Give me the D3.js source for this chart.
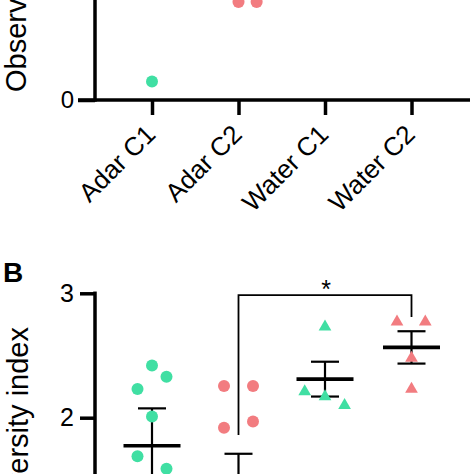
<!DOCTYPE html>
<html>
<head>
<meta charset="utf-8">
<script src="https://cdn.jsdelivr.net/npm/d3@7"></script>
<style>
  body { margin: 0; background: #fff; }
  text { font-family: "Liberation Sans", Arial, sans-serif; fill: #000; }
</style>
</head>
<body>
<div id="chart"></div>
<script>
const categories = ["Adar C1", "Adar C2", "Water C1", "Water C2"];
const groupColor = ["#40dfa3", "#f27c80", "#40dfa3", "#f27c80"];
const groupShape = ["circle", "circle", "triangle", "triangle"];

// panel A (observed richness) - only the lowest points fall inside the crop
const observedGroup  = ["Adar C1", "Adar C2", "Adar C2"];
const observedValue  = [15, 79, 79];
const observedJitter = [0, 0, 1.25];

// panel B (diversity index)
const diversityGroup = [
  "Adar C1", "Adar C1", "Adar C1", "Adar C1", "Adar C1", "Adar C1",
  "Adar C2", "Adar C2", "Adar C2", "Adar C2",
  "Water C1", "Water C1", "Water C1", "Water C1",
  "Water C2", "Water C2", "Water C2", "Water C2"
];
const diversityValue = [
  2.42, 2.33, 2.23, 2.01, 1.69, 1.59,
  2.255, 2.255, 1.92, 1.97,
  2.73, 2.21, 2.17, 2.10,
  2.77, 2.77, 2.48, 2.23
];
const diversityJitter = [
  0, 1, -1, 0, -1, 1,
  -1, 1, -1, 1,
  0, -1.4, 0, 1.35,
  -1, 0.95, 0, 0
];
const diversityMean = [1.775, 1.45, 2.31, 2.565];
const diversitySem  = [0.30, 0.26, 0.14, 0.13];

const comparisons = [
  { from: "Adar C2", to: "Water C2", top: 2.985, endFrom: 1.86, endTo: 2.81, label: "*" }
];

const W = 474, H = 474;
const axisX = 95, jitterUnit = 14.5;

const svg = d3.select("#chart").append("svg")
    .attr("width", W)
    .attr("height", H);

let x = d3.scalePoint()
    .domain(categories)
    .range([152, 411.5]);

let colorOf = d3.scaleOrdinal().domain(categories).range(groupColor);
let shapeOf = d3.scaleOrdinal().domain(categories).range(groupShape);
let tri = d3.symbol(d3.symbolTriangle, 70);

function drawPoints(g, group, value, jitter, y) {
  let pts = group.map((c, i) => ({ c: c, v: value[i], j: jitter[i] }));
  g.selectAll("circle.pt")
    .data(pts.filter((d) => shapeOf(d.c) === "circle"))
    .enter().append("circle")
    .attr("class", "pt")
    .attr("cx", (d) => x(d.c) + d.j * jitterUnit)
    .attr("cy", (d) => y(d.v))
    .attr("r", 6)
    .attr("fill", (d) => colorOf(d.c));
  g.selectAll("path.pt")
    .data(pts.filter((d) => shapeOf(d.c) === "triangle"))
    .enter().append("path")
    .attr("class", "pt")
    .attr("d", tri)
    .attr("transform", (d) => `translate(${ x(d.c) + d.j * jitterUnit }, ${ y(d.v) })`)
    .attr("fill", (d) => colorOf(d.c));
}

function styleAxis(g, size) {
  g.select(".domain").remove();
  g.selectAll(".tick line").attr("stroke", "#000").attr("stroke-width", 3.5);
  g.selectAll(".tick text").attr("font-size", size).attr("fill", "#000")
    .attr("font-family", "'Liberation Sans', Arial, sans-serif");
}

// ---------- panel A ----------
let yA = d3.scaleLinear().domain([0, 100]).range([100, -24]);
let gA = svg.append("g");

gA.append("g")
    .attr("transform", `translate(${ axisX }, 0)`)
    .call(d3.axisLeft(yA).tickValues([0]).tickSize(17).tickPadding(4))
    .call((g) => styleAxis(g, 24));

gA.append("g")
    .attr("transform", `translate(0, ${ yA(0) })`)
    .call(d3.axisBottom(x).tickSize(15).tickFormat(""))
    .call((g) => styleAxis(g, 24));

gA.append("line")
    .attr("x1", axisX - 17).attr("x2", 470)
    .attr("y1", yA(0)).attr("y2", yA(0))
    .attr("stroke", "#000").attr("stroke-width", 3.5);
gA.append("line")
    .attr("x1", axisX).attr("x2", axisX)
    .attr("y1", yA(0) + 1.75).attr("y2", -5)
    .attr("stroke", "#000").attr("stroke-width", 3.5);

gA.selectAll("text.cat")
    .data(categories)
    .enter().append("text")
    .attr("class", "cat")
    .attr("font-size", 26)
    .attr("text-anchor", "end")
    .attr("transform", (d) => `translate(${ x(d) + 5 }, 136) rotate(-45)`)
    .text((d) => d);

gA.append("text")
    .attr("font-size", 29)
    .attr("transform", "translate(26, 92) rotate(-90)")
    .text("Observed species");

drawPoints(gA, observedGroup, observedValue, observedJitter, yA);

// ---------- panel B ----------
let yB = d3.scaleLinear().domain([2, 3]).range([417.7, 293.3]);
let gB = svg.append("g");

gB.append("text")
    .attr("x", 3).attr("y", 282)
    .attr("font-size", 28)
    .attr("font-weight", "bold")
    .text("B");

gB.append("g")
    .attr("transform", `translate(${ axisX }, 0)`)
    .call(d3.axisLeft(yB).tickValues([2, 3]).tickSize(15).tickPadding(6).tickFormat(d3.format("d")))
    .call((g) => styleAxis(g, 25));
gB.append("line")
    .attr("x1", axisX).attr("x2", axisX)
    .attr("y1", yB(3) - 1.75).attr("y2", H + 10)
    .attr("stroke", "#000").attr("stroke-width", 3.5);

gB.append("text")
    .attr("font-size", 29)
    .attr("text-anchor", "end")
    .attr("transform", "translate(28, 327) rotate(-90)")
    .text("Shannon diversity index");

// mean ± SEM
let stats = categories.map((c, i) => ({ c: c, m: diversityMean[i], s: diversitySem[i] }));
let bars = gB.selectAll("g.stat")
    .data(stats)
    .enter().append("g")
    .attr("class", "stat")
    .attr("stroke", "#000");
bars.append("line")
    .attr("x1", (d) => x(d.c)).attr("x2", (d) => x(d.c))
    .attr("y1", (d) => yB(d.m - d.s)).attr("y2", (d) => yB(d.m + d.s))
    .attr("stroke-width", 2.2);
bars.selectAll("line.cap")
    .data((d) => [d.m - d.s, d.m + d.s].map((v) => ({ c: d.c, v: v })))
    .enter().append("line")
    .attr("class", "cap")
    .attr("x1", (d) => x(d.c) - 14).attr("x2", (d) => x(d.c) + 14)
    .attr("y1", (d) => yB(d.v)).attr("y2", (d) => yB(d.v))
    .attr("stroke-width", 2.2);
bars.append("line")
    .attr("x1", (d) => x(d.c) - 28.5).attr("x2", (d) => x(d.c) + 28.5)
    .attr("y1", (d) => yB(d.m)).attr("y2", (d) => yB(d.m))
    .attr("stroke-width", 3.6);

// significance bracket
comparisons.forEach((cmp) => {
  let pts = [
    [x(cmp.from), yB(cmp.endFrom)],
    [x(cmp.from), yB(cmp.top)],
    [x(cmp.to), yB(cmp.top)],
    [x(cmp.to), yB(cmp.endTo)]
  ];
  gB.append("path")
    .attr("d", d3.line()(pts))
    .attr("fill", "none")
    .attr("stroke", "#000")
    .attr("stroke-width", 1.8);
  gB.append("text")
    .attr("x", (x(cmp.from) + x(cmp.to)) / 2 + 1)
    .attr("y", yB(cmp.top) + 3)
    .attr("text-anchor", "middle")
    .attr("font-size", 25)
    .text(cmp.label);
});

drawPoints(gB, diversityGroup, diversityValue, diversityJitter, yB);
</script>
</body>
</html>
